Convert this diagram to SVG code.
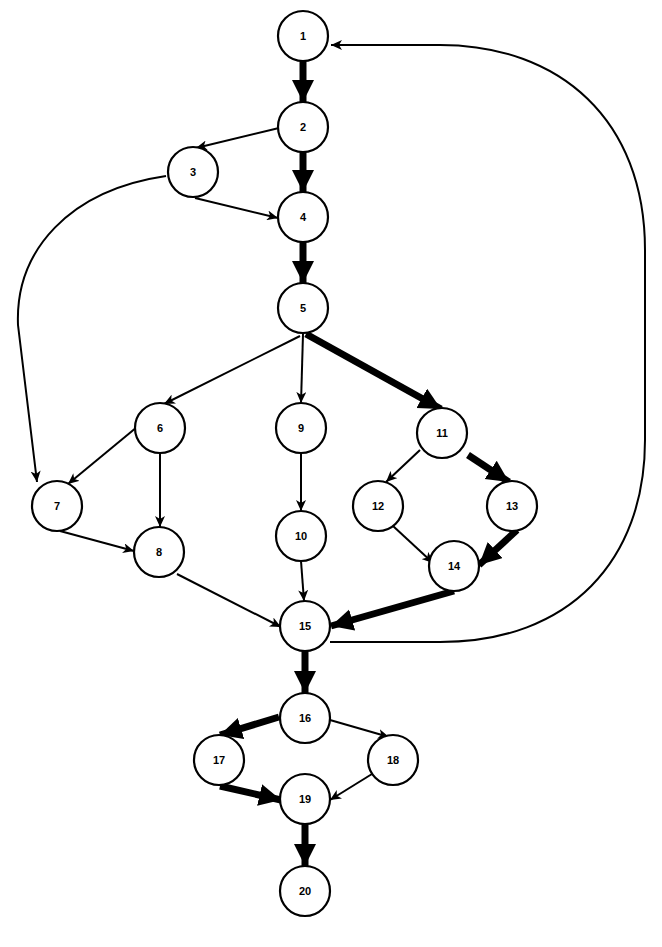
<svg xmlns="http://www.w3.org/2000/svg" width="662" height="947" viewBox="0 0 662 947">
<style>
.n circle{fill:#fff;stroke:#000;stroke-width:2.2}
.n text{font-family:"Liberation Sans",Arial,sans-serif;font-size:11px;font-weight:bold;text-anchor:middle;dominant-baseline:central}
.t{stroke:#000;stroke-width:2;fill:none;marker-end:url(#a)}
.k{stroke:#000;stroke-width:7;fill:none;marker-end:url(#b)}
</style>
<defs>
<marker id="a" markerUnits="userSpaceOnUse" markerWidth="12" markerHeight="10" refX="11" refY="5" orient="auto"><path d="M0,0 L11,5 L0,10 L3,5 Z" fill="#000"/></marker>
<marker id="b" markerUnits="userSpaceOnUse" markerWidth="24" markerHeight="24" refX="22" refY="11" orient="auto"><path d="M0,0 L22,11 L0,22 Z" fill="#000"/></marker>
</defs>
<g id="connectors">
<path class="k" d="M303,61 V102"/>
<path class="t" d="M279,128 L196,148"/>
<path class="k" d="M303,152 V192"/>
<path class="t" d="M195,198 L278,218"/>
<path class="k" d="M303,242 V283"/>
<path class="t" d="M300,336 L164,404"/>
<path class="t" d="M303,334 L301,403"/>
<path class="k" d="M306,334 L441,409"/>
<path class="t" d="M137,427 L68,484"/>
<path class="t" d="M160,453 V527"/>
<path class="t" d="M60,531 L134,551"/>
<path class="t" d="M177,574 L281,627"/>
<path class="t" d="M301,453 V511"/>
<path class="t" d="M301,561 L304,601"/>
<path class="t" d="M420,450 L386,482"/>
<path class="k" d="M468,455 L509,482"/>
<path class="t" d="M393,526 L433,563"/>
<path class="k" d="M517,530 L479,565"/>
<path class="k" d="M454,591 L331,626"/>
<path class="k" d="M305,651 V693"/>
<path class="k" d="M279,717 L220,735"/>
<path class="t" d="M330,720 L389,737"/>
<path class="k" d="M220,786 L281,800"/>
<path class="t" d="M372,774 L330,800"/>
<path class="k" d="M305,824 V866"/>
<path class="t" d="M166,176 C70,190 15,250 18,325 L37,482"/>
<path class="t" d="M330,642 H440 C570,642 645,560 645,440 V250 C645,120 560,45 440,45 H331"/>
</g>
<g id="n1" class="n"><circle cx="303" cy="36" r="25"/><text x="303" y="36">1</text></g>
<g id="n2" class="n"><circle cx="303" cy="127" r="25"/><text x="303" y="127">2</text></g>
<g id="n3" class="n"><circle cx="193" cy="172" r="25"/><text x="193" y="172">3</text></g>
<g id="n4" class="n"><circle cx="303" cy="217" r="25"/><text x="303" y="217">4</text></g>
<g id="n5" class="n"><circle cx="303" cy="308" r="25"/><text x="303" y="308">5</text></g>
<g id="n6" class="n"><circle cx="160" cy="428" r="25"/><text x="160" y="428">6</text></g>
<g id="n7" class="n"><circle cx="57" cy="506" r="25"/><text x="57" y="506">7</text></g>
<g id="n8" class="n"><circle cx="159" cy="552" r="25"/><text x="159" y="552">8</text></g>
<g id="n9" class="n"><circle cx="301" cy="428" r="25"/><text x="301" y="428">9</text></g>
<g id="n10" class="n"><circle cx="301" cy="536" r="25"/><text x="301" y="536">10</text></g>
<g id="n11" class="n"><circle cx="442" cy="433" r="25"/><text x="442" y="433">11</text></g>
<g id="n12" class="n"><circle cx="378" cy="506" r="25"/><text x="378" y="506">12</text></g>
<g id="n13" class="n"><circle cx="512" cy="506" r="25"/><text x="512" y="506">13</text></g>
<g id="n14" class="n"><circle cx="454" cy="566" r="25"/><text x="454" y="566">14</text></g>
<g id="n15" class="n"><circle cx="305" cy="626" r="25"/><text x="305" y="626">15</text></g>
<g id="n16" class="n"><circle cx="305" cy="718" r="25"/><text x="305" y="718">16</text></g>
<g id="n17" class="n"><circle cx="219" cy="760" r="25"/><text x="219" y="760">17</text></g>
<g id="n18" class="n"><circle cx="393" cy="760" r="25"/><text x="393" y="760">18</text></g>
<g id="n19" class="n"><circle cx="305" cy="799" r="25"/><text x="305" y="799">19</text></g>
<g id="n20" class="n"><circle cx="305" cy="891" r="25"/><text x="305" y="891">20</text></g>
</svg>
